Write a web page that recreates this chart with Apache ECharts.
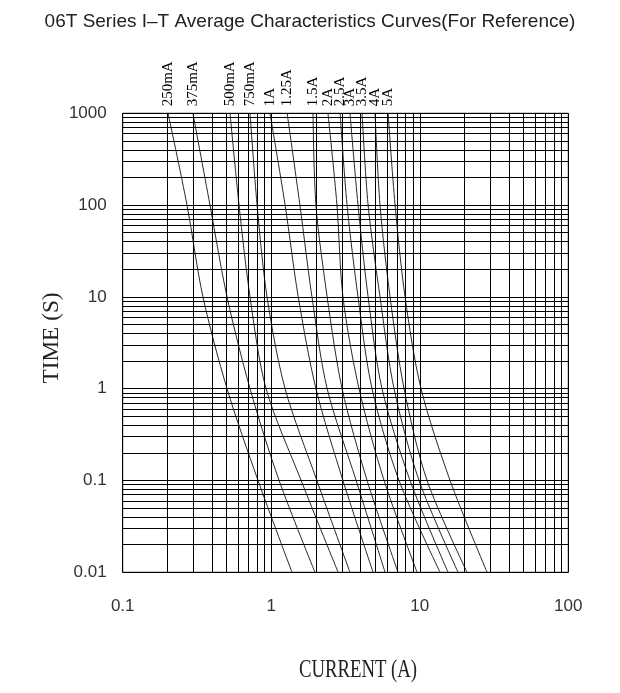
<!DOCTYPE html>
<html><head><meta charset="utf-8">
<script src="https://cdn.jsdelivr.net/npm/echarts@6/dist/echarts.min.js"></script>
<style>html,body{margin:0;padding:0;background:#fff}#c{width:620px;height:693px}</style>
</head><body><div id="c"></div>
<script>
// time points (s) at which each curve's current is read
const times = [1000, 100, 10, 1, 0.1, 0.01];
const ratings = ['250mA','375mA','500mA','750mA','1A','1.25A','1.5A','2A','2.5A','3A','3.5A','4A','5A'];
// current (A) for each rating at the times above
const c250mA = [0.202, 0.271, 0.347, 0.504, 0.815, 1.38];
const c375mA = [0.297, 0.387, 0.504, 0.720, 1.13, 1.97];
const c500mA = [0.528, 0.607, 0.720, 0.923, 1.59, 2.82];
const c750mA = [0.720, 0.803, 0.937, 1.24, 2.03, 3.39];
const c1A    = [0.981, 1.24, 1.52, 2.00, 3.04, 4.85];
const c1_25A = [1.28, 1.56, 1.88, 2.38, 3.73, 5.84];
const c1_5A  = [1.91, 2.00, 2.38, 3.00, 4.42, 7.14];
const c2A    = [2.41, 2.77, 3.04, 3.90, 5.75, 9.59];
const c2_5A  = [2.91, 3.24, 3.84, 4.77, 7.25, 13.7];
const c3A    = [3.39, 3.84, 4.49, 5.57, 8.60, 15.5];
const c3_5A  = [4.09, 4.49, 5.40, 6.71, 9.89, 18.1];
const c4A    = [5.00, 5.40, 6.31, 7.84, 11.2, 20.8];
const c5A    = [6.12, 6.82, 7.96, 10.2, 16.0, 28.4];
const curves = [c250mA, c375mA, c500mA, c750mA, c1A, c1_25A, c1_5A, c2A, c2_5A, c3A, c3_5A, c4A, c5A];

const xTicks = [0.1, 1, 10, 100];
const xTickLabels = ['0.1', '1', '10', '100'];
const yTicks = [0.01, 0.1, 1, 10, 100, 1000];
const yTickLabels = ['0.01', '0.1', '1', '10', '100', '1000'];
const gridMultipliers = [1, 2, 3, 4, 5, 6, 7, 8, 9];

function decadeLines(ticks) {
  const out = [];
  for (let i = 0; i < ticks.length - 1; i++) {
    gridMultipliers.forEach(m => out.push(+(ticks[i] * m).toPrecision(6)));
  }
  out.push(ticks[ticks.length - 1]);
  return out;
}
function lookup(ticks, labels) {
  return v => {
    const i = ticks.findIndex(t => Math.abs(Math.log10(t) - Math.log10(v)) < 1e-6);
    return i >= 0 ? labels[i] : '';
  };
}

const gridLines = decadeLines(xTicks).map(v => ({ xAxis: v }))
  .concat(decadeLines(yTicks).map(v => ({ yAxis: v })));

const labelStyle = {
  show: true, position: 'top', distance: 7, rotate: 90,
  align: 'left', verticalAlign: 'middle',
  fontFamily: 'Liberation Serif', fontSize: 15, color: '#000'
};

const series = curves.map((arr, k) => {
  const s = {
    name: ratings[k], type: 'line', smooth: 0.3, clip: false,
    showSymbol: true, symbol: 'circle', symbolSize: 0,
    lineStyle: { color: '#2a2a2a', width: 1 },
    itemStyle: { color: '#2a2a2a' },
    silent: true,
    data: arr.map((cur, j) => j === 0
      ? { value: [cur, times[j]], label: Object.assign({ formatter: ratings[k] }, labelStyle) }
      : [cur, times[j]])
  };
  if (k === 0) {
    s.markLine = {
      silent: true, symbol: ['none', 'none'], animation: false,
      label: { show: false },
      lineStyle: { color: '#000', width: 1, type: 'solid' },
      data: gridLines
    };
  }
  return s;
});

const chart = echarts.init(document.getElementById('c'), null, { renderer: 'canvas' });
chart.setOption({
  animation: false,
  backgroundColor: '#fff',
  title: {
    text: '06T Series I–T Average Characteristics Curves(For Reference)',
    left: 'center', top: 7,
    textStyle: { fontFamily: 'Liberation Sans', fontSize: 19, fontWeight: 'normal', color: '#222' }
  },
  grid: { left: 122.7, right: 51.7, top: 113.3, bottom: 120.7, show: true, borderColor: '#000', borderWidth: 1 },
  xAxis: {
    type: 'log', logBase: 10, min: 0.1, max: 100,
    axisLine: { show: false }, axisTick: { show: false }, splitLine: { show: false },
    axisLabel: { margin: 26, fontFamily: 'Liberation Sans', fontSize: 17, color: '#333', formatter: lookup(xTicks, xTickLabels) }
  },
  yAxis: {
    type: 'log', logBase: 10, min: 0.01, max: 1000,
    axisLine: { show: false }, axisTick: { show: false }, splitLine: { show: false },
    axisLabel: { margin: 16, fontFamily: 'Liberation Sans', fontSize: 17, color: '#333', formatter: lookup(yTicks, yTickLabels) }
  },
  graphic: [
    { type: 'text', x: 52, y: 338, rotation: Math.PI / 2, scaleX: 0.97,
      style: { text: 'TIME (S)', fontFamily: 'Liberation Serif', fontSize: 24, fill: '#222', align: 'center', verticalAlign: 'middle' } },
    { type: 'text', x: 358, y: 670, scaleX: 0.75,
      style: { text: 'CURRENT (A)', fontFamily: 'Liberation Serif', fontSize: 25, fill: '#222', align: 'center', verticalAlign: 'middle' } }
  ],
  series: series
});
</script>
</body></html>
